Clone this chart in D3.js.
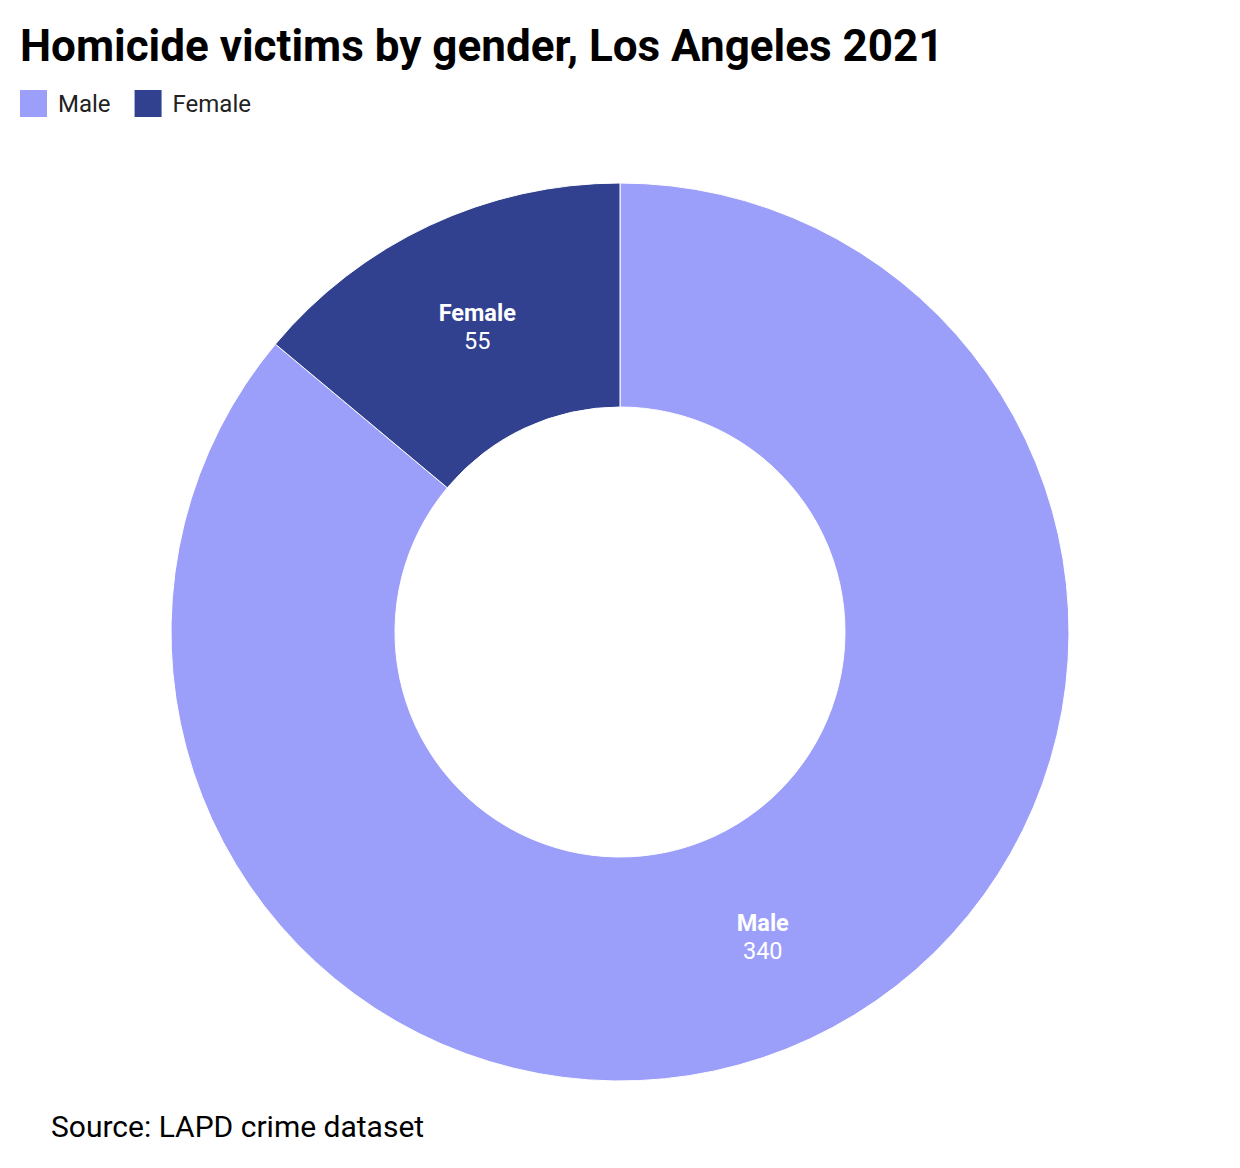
<!DOCTYPE html>
<html>
<head>
<meta charset="utf-8">
<script src="https://cdn.jsdelivr.net/npm/d3@7"></script>
<style>
  body { margin: 0; background: #fff; }
  svg text { font-family: Roboto, sans-serif; }
</style>
</head>
<body>
<svg id="chart" width="1240" height="1168"></svg>
<script>
// data
var categories = ["Male", "Female"];
var values = [340, 55];
var colors = ["#9b9ffa", "#31418f"];

var title = "Homicide victims by gender, Los Angeles 2021";
var source = "Source: LAPD crime dataset";

var svg = d3.select("#chart");

svg.append("text")
  .attr("x", 20)
  .attr("y", 61)
  .attr("font-size", 44)
  .attr("font-weight", 700)
  .attr("fill", "#000")
  .text(title);

// legend
var legend = svg.append("g").attr("transform", "translate(20,90)");
var lx = 0;
categories.forEach(function(c, i) {
  var g = legend.append("g").attr("transform", "translate(" + lx + ",0)");
  g.append("rect")
    .attr("width", 27).attr("height", 27)
    .attr("fill", colors[i]);
  var t = g.append("text")
    .attr("x", 38).attr("y", 22)
    .attr("font-size", 24)
    .attr("fill", "#222")
    .text(c);
  lx += 38 + t.node().getComputedTextLength() + 24;
});

// donut
var cx = 620, cy = 632, outer = 449, inner = 225;

var pie = d3.pie().sort(null).value(function(d) { return d.value; });
var arc = d3.arc().innerRadius(inner).outerRadius(outer);
var color = d3.scaleOrdinal().domain(categories).range(colors);

var data = categories.map(function(c, i) { return { name: c, value: values[i] }; });
var arcs = pie(data);

var container = svg.append("g")
  .attr("transform", "translate(" + cx + "," + cy + ")");

container.selectAll("path")
  .data(arcs)
  .enter().append("path")
  .attr("d", arc)
  .attr("fill", function(d) { return color(d.data.name); })
  .attr("stroke", "#fff")
  .attr("stroke-width", 1);

var labels = container.selectAll("g.label")
  .data(arcs)
  .enter().append("g")
  .attr("class", "label")
  .attr("transform", function(d) { return "translate(" + arc.centroid(d) + ")"; });

labels.append("text")
  .attr("text-anchor", "middle")
  .attr("y", -6)
  .attr("font-size", 23.5)
  .attr("font-weight", 700)
  .attr("fill", "#fff")
  .text(function(d) { return d.data.name; });

labels.append("text")
  .attr("text-anchor", "middle")
  .attr("y", 22)
  .attr("font-size", 23.5)
  .attr("fill", "#fff")
  .text(function(d) { return d.data.value; });

svg.append("text")
  .attr("x", 51)
  .attr("y", 1137)
  .attr("font-family", "'Liberation Sans', Arial, sans-serif")
  .attr("font-size", 30)
  .attr("fill", "#000")
  .text(source);
</script>
</body>
</html>
